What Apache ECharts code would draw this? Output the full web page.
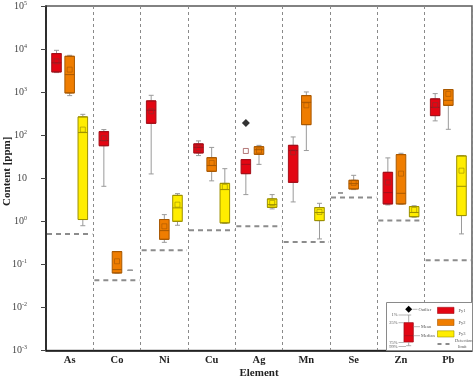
<!DOCTYPE html>
<html><head><meta charset="utf-8">
<script src="https://cdn.jsdelivr.net/npm/echarts@6/dist/echarts.min.js"></script>
<style>html,body{margin:0;padding:0;background:#fff}#c{width:474px;height:379px}</style>
</head><body><div id="c"></div>
<script>
const categories = ['As','Co','Ni','Cu','Ag','Mn','Se','Zn','Pb'];
const seriesNames = ['Py1','Py2','Py3'];
const yTickExponents = [-3,-2,-1,0,1,2,3,4,5];
// [min, Q1, median, Q3, max]; null = no data
const py1Box = [
  [2840, 2950, 4800, 7840, 9350],
  [6.5, 57, 75, 121, 135],
  [12.6, 189, 380, 625, 844],
  [33.6, 38.8, 52, 62.7, 73.6],
  [4.17, 12.8, 21, 27.1, 27.1],
  [2.82, 8.05, 44, 58, 91],
  [4.57, 4.57, 4.57, 4.57, 4.57],
  [2.4, 2.54, 4.64, 13.7, 29.7],
  [215, 285, 444, 696, 924]
];
const py2Box = [
  [830, 959, 2550, 6790, 7160],
  [0.0633, 0.0633, 0.0757, 0.198, 0.198],
  [0.325, 0.382, 0.608, 1.10, 1.43],
  [8.7, 14.5, 19.7, 30, 52],
  [21, 36, 46, 54, 58],
  [44, 176, 580, 830, 1010],
  [5.45, 5.65, 7.5, 8.95, 11.7],
  [2.5, 2.54, 4.47, 35.4, 38],
  [137, 494, 645, 1145, 1145]
];
const py3Box = [
  [0.79, 1.10, 115, 266, 305],
  [0.0728, 0.0728, 0.0728, 0.0728, 0.0728],
  [0.81, 1.0, 2.05, 4.0, 4.4],
  [0.9, 0.92, 5.45, 7.6, 16.7],
  [1.94, 2.11, 2.44, 3.31, 4.17],
  [0.39, 1.04, 1.6, 2.08, 2.62],
  null,
  [1.25, 1.28, 1.6, 2.2, 2.3],
  [0.51, 1.36, 6.5, 33, 33]
];
const py1Mean = [5200, 85, 360, 50, 43, 40, null, 8, 500];
const py2Mean = [3330, 0.118, 0.766, 22.7, 44, 494, 7.8, 12.8, 909];
const py3Mean = [135, null, 2.44, 6.3, 2.67, 1.65, null, 1.84, 15];
const py1Outlier = [null, null, null, null, 193, null, null, null, null];
const detectionLimit = [0.51, 0.043, 0.212, 0.62, 0.77, 0.33, 3.55, 1.05, 0.124];

const fills = ['#E30613', '#EF7D00', '#FFED00'];
const borders = ['#A3101A', '#A85800', '#9C9000'];
const meanBorders = ['#8a3030', '#A85800', '#9C9000'];
const boxes = [py1Box, py2Box, py3Box];
const means = [py1Mean, py2Mean, py3Mean];
const offsets = [-13.15, 0, 13.15];
const serif = 'Liberation Serif';

const series = [];
boxes.forEach((b, k) => {
  series.push({
    type: 'boxplot', name: seriesNames[k] + ' whisker', xAxisIndex: 1, silent: true,
    boxWidth: [5, 5],
    itemStyle: { color: 'rgba(0,0,0,0)', borderColor: '#9a9a9a', borderWidth: 1 },
    data: b.map(d => d ? d.slice() : '-'),
    z: 2
  });
});
boxes.forEach((b, k) => {
  series.push({
    type: 'boxplot', name: seriesNames[k], xAxisIndex: 0, silent: true,
    itemStyle: { color: fills[k], borderColor: borders[k], borderWidth: 1 },
    data: b.map(d => (d && d[0] !== d[4]) ? [d[1], d[1], d[2], d[3], d[3]] : '-'),
    z: 3
  });
});
means.forEach((m, k) => {
  series.push({
    type: 'scatter', xAxisIndex: 0, silent: true, symbol: 'rect', symbolSize: 5,
    symbolOffset: [offsets[k], 0],
    itemStyle: { color: 'rgba(0,0,0,0)', borderColor: meanBorders[k], borderWidth: 0.8 },
    data: m.map((v, i) => v == null ? [i, '-'] : [i, v]),
    z: 5
  });
});
series.push({
  type: 'scatter', xAxisIndex: 0, silent: true, symbol: 'diamond', symbolSize: 8,
  symbolOffset: [offsets[0], 0],
  itemStyle: { color: '#000' },
  data: py1Outlier.map((v, i) => v == null ? [i, '-'] : [i, v]),
  z: 6
});
series.push({
  type: 'custom', xAxisIndex: 0, silent: true,
  data: detectionLimit.map((v, i) => [i, v]),
  renderItem: function (params, api) {
    const i = api.value(0), v = api.value(1);
    const p = api.coord([i, v]);
    const w = api.coord([1, v])[0] - api.coord([0, v])[0];
    return { type: 'line', shape: { x1: p[0] - w / 2 + 1, y1: p[1], x2: p[0] + w / 2 - 1, y2: p[1] },
      style: { stroke: '#8c8c8c', lineWidth: 2, lineDash: [5, 4] } };
  },
  z: 1
});

const lgFont = '4.5px "' + serif + '"';
function txt(x, y, s, align) {
  return { type: 'text', x: x, y: y, style: { text: s, font: lgFont, fill: '#555', align: align || 'left', verticalAlign: 'middle' }, z: 101 };
}
function ln(x1, y1, x2, y2, c, w, dash) {
  const st = { stroke: c || '#888', lineWidth: w || 0.6 };
  if (dash) st.lineDash = dash;
  return { type: 'line', shape: { x1: x1, y1: y1, x2: x2, y2: y2 }, style: st, z: 101 };
}
const graphic = [
  { type: 'rect', shape: { x: 386.5, y: 302.5, width: 86, height: 48 }, style: { fill: '#fff', stroke: '#8a8a8a', lineWidth: 1 }, z: 100 },
  { type: 'polygon', shape: { points: [[408.7, 305.8], [412.2, 309.3], [408.7, 312.8], [405.2, 309.3]] }, style: { fill: '#000' }, z: 101 },
  ln(412.5, 309.3, 417.5, 309.3), txt(418.5, 309.5, 'Outlier'),
  ln(406.2, 315, 411.2, 315, '#999', 0.8), ln(408.7, 315, 408.7, 322.7, '#999', 0.8),
  { type: 'rect', shape: { x: 404, y: 322.7, width: 9.3, height: 19.3 }, style: { fill: fills[0], stroke: borders[0], lineWidth: 0.8 }, z: 101 },
  ln(404, 335.7, 413.3, 335.7, borders[0], 0.8),
  ln(408.7, 342, 408.7, 345.7, '#999', 0.8), ln(406.2, 345.7, 411.2, 345.7, '#999', 0.8),
  txt(397.5, 315, '1%', 'right'), ln(398.5, 315, 406, 315),
  txt(397.5, 322.7, '25%', 'right'), ln(398.5, 322.7, 404, 322.7),
  txt(397.5, 342.5, '75%', 'right'), ln(398.5, 342.5, 404, 342.5),
  txt(397.5, 346.5, '99%', 'right'), ln(398.5, 346.5, 406, 346.5),
  ln(413.3, 326.7, 420, 326.7), txt(421, 326.7, 'Mean'),
  ln(413.3, 335.7, 420, 335.7), txt(421, 335.7, 'Median'),
  { type: 'rect', shape: { x: 437.5, y: 307.3, width: 16.5, height: 6.2 }, style: { fill: fills[0], stroke: borders[0], lineWidth: 0.6 }, z: 101 },
  { type: 'rect', shape: { x: 437.5, y: 319.3, width: 16.5, height: 6.2 }, style: { fill: fills[1], stroke: borders[1], lineWidth: 0.6 }, z: 101 },
  { type: 'rect', shape: { x: 437.5, y: 330.8, width: 16.5, height: 6.2 }, style: { fill: fills[2], stroke: borders[2], lineWidth: 0.6 }, z: 101 },
  txt(458.5, 310.4, seriesNames[0]), txt(458.5, 322.4, seriesNames[1]), txt(458.5, 334, seriesNames[2]),
  ln(437.5, 344, 453, 344, '#666', 1.6, [4, 4]),
  txt(455, 341.3, 'Detection'), txt(458, 346.5, 'limit')
];

const option = {
  animation: false,
  backgroundColor: '#fff',
  grid: { left: 46, right: 2, top: 6, bottom: 28.5, show: true, borderColor: '#5a5a5a', borderWidth: 1.5, outerBoundsMode: 'none', containLabel: false },
  xAxis: [
    {
      type: 'category', data: categories, boundaryGap: true,
      axisLine: { show: true, lineStyle: { color: '#111', width: 1.5 } },
      axisTick: { show: false },
      axisLabel: { interval: 0, margin: 4, fontFamily: serif, fontWeight: 'bold', fontSize: 10.5, color: '#222' },
      splitLine: { show: true, interval: 0, lineStyle: { color: '#8a8a8a', width: 1, type: [3, 3] } },
      name: 'Element', nameLocation: 'middle', nameGap: 17, nameMoveOverlap: false,
      nameTextStyle: { fontFamily: serif, fontWeight: 'bold', fontSize: 11, color: '#222' }
    },
    { type: 'category', data: categories, show: false }
  ],
  yAxis: {
    type: 'log', logBase: 10, min: 0.001, max: 100000, splitNumber: 8,
    axisLine: { show: true, lineStyle: { color: '#111', width: 1.5 } },
    axisTick: { show: true, length: 5, lineStyle: { color: '#444' } },
    splitLine: { show: false },
    axisLabel: {
      margin: 19, fontFamily: serif, fontSize: 10, color: '#444',
      formatter: function (v) {
        const e = Math.round(Math.log10(v));
        if (yTickExponents.indexOf(e) < 0) return '';
        return e === 1 ? '10' : '10{s|' + (e < 0 ? '-' + (-e) : e) + '}';
      },
      rich: { s: { fontSize: 6, fontFamily: serif, color: '#444', verticalAlign: 'top', padding: [0, 0, 6, 0] } }
    },
    name: 'Content [ppm]', nameLocation: 'middle', nameGap: 33, nameMoveOverlap: false,
    nameTextStyle: { fontFamily: serif, fontWeight: 'bold', fontSize: 11, color: '#222', padding: [0, 0, 0, 14] }
  },
  series: series,
  graphic: graphic
};
const chart = echarts.init(document.getElementById('c'), null, { renderer: 'canvas' });
chart.setOption(option);
</script></body></html>
